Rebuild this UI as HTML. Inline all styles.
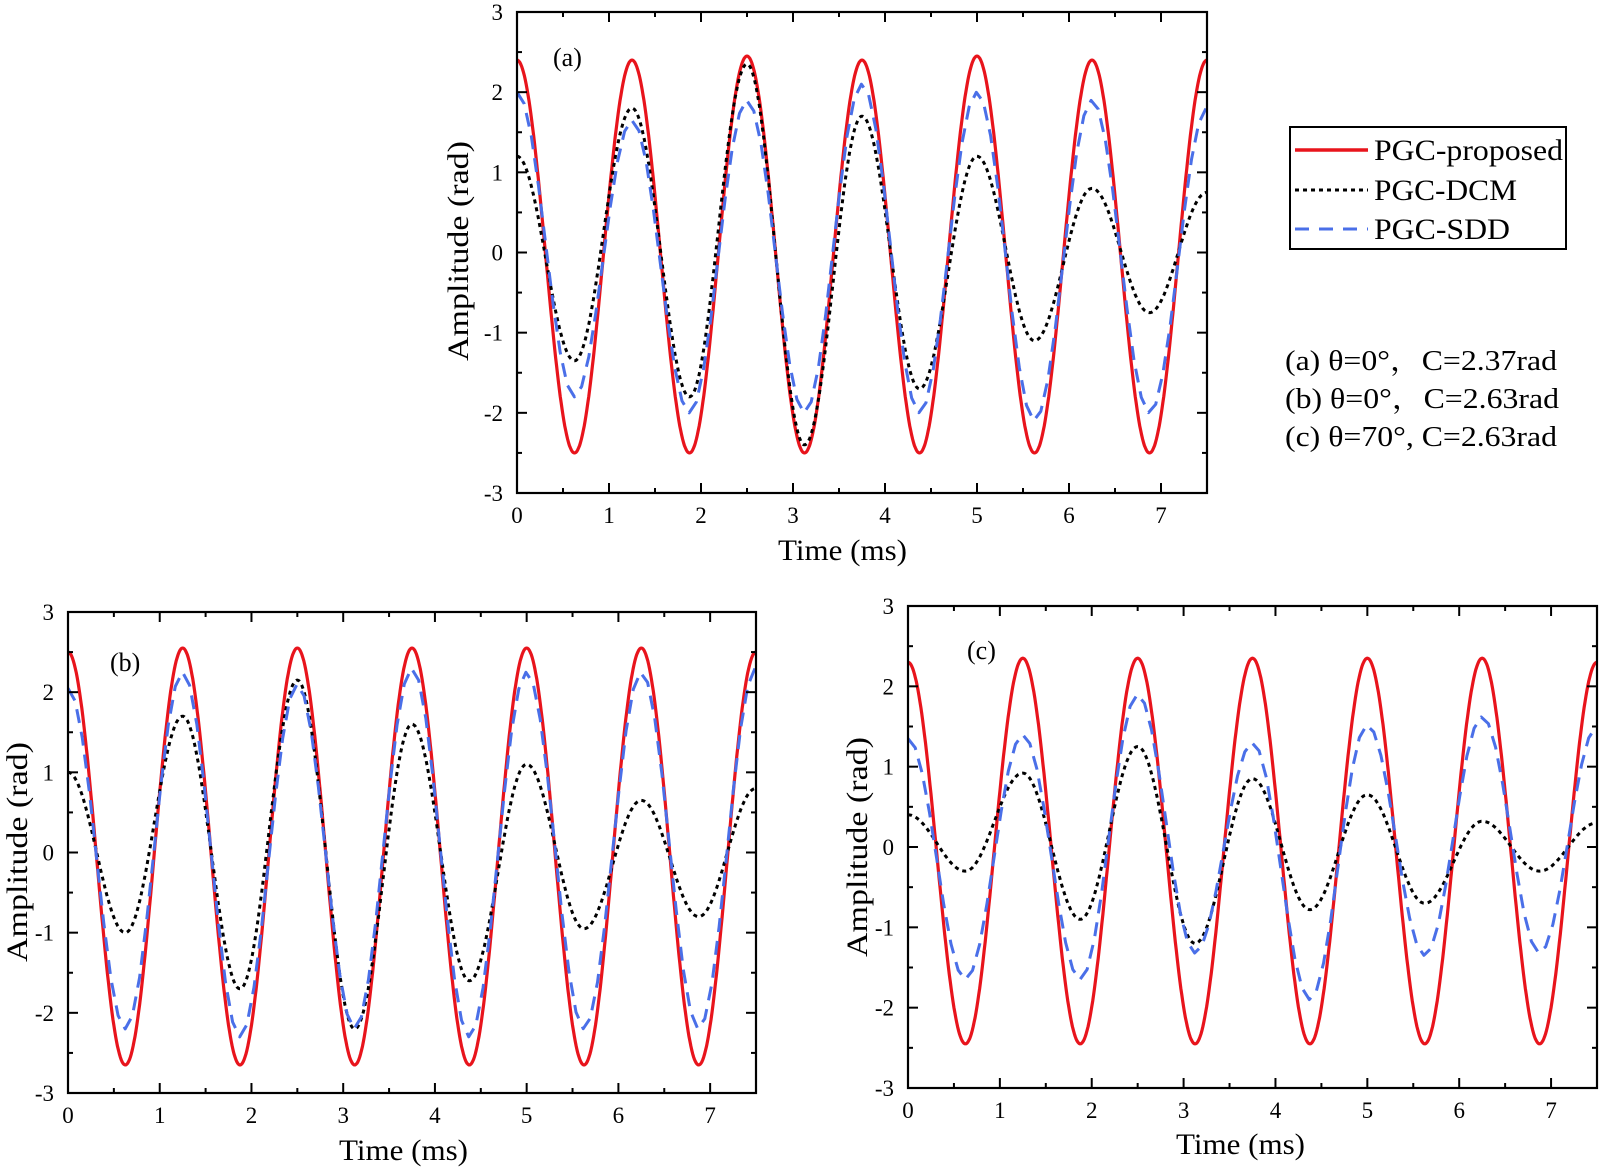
<!DOCTYPE html>
<html><head><meta charset="utf-8"><style>
html,body{margin:0;padding:0;background:#fff;}
svg{display:block;font-family:"Liberation Serif","Noto Serif CJK SC",serif;}
</style></head><body>
<svg id="s" width="1600" height="1170" viewBox="0 0 1600 1170" xmlns="http://www.w3.org/2000/svg">
<rect x="1290" y="127" width="276" height="122" fill="#fff" stroke="#000" stroke-width="2"/>
<line x1="1295" y1="150" x2="1368" y2="150" stroke="#e8141c" stroke-width="3.5"/>
<line x1="1295" y1="190" x2="1368" y2="190" stroke="#000" stroke-width="3" stroke-dasharray="4,4"/>
<line x1="1295" y1="229" x2="1368" y2="229" stroke="#4a6fe8" stroke-width="3" stroke-dasharray="14,10"/>
<text x="1374" y="160" font-size="30" textLength="189" lengthAdjust="spacingAndGlyphs">PGC-proposed</text>
<text x="1374" y="200" font-size="30" textLength="143" lengthAdjust="spacingAndGlyphs">PGC-DCM</text>
<text x="1374" y="239" font-size="30" textLength="136" lengthAdjust="spacingAndGlyphs">PGC-SDD</text>
<text x="1285" y="370" font-size="28" textLength="272" lengthAdjust="spacingAndGlyphs">(a) θ=0°，C=2.37rad</text>
<text x="1285" y="408" font-size="28" textLength="274" lengthAdjust="spacingAndGlyphs">(b) θ=0°，C=2.63rad</text>
<text x="1285" y="446" font-size="28" textLength="272" lengthAdjust="spacingAndGlyphs">(c) θ=70°, C=2.63rad</text>
</svg>
<script>
const NS="http://www.w3.org/2000/svg", s=document.getElementById('s');
function el(t,a,txt){const e=document.createElementNS(NS,t);for(const k in a)e.setAttribute(k,a[k]);if(txt!==undefined)e.textContent=txt;s.appendChild(e);return e;}
function sig(pk,tr,t){
  const h=t/0.625; const n=Math.floor(h); const f=h-n;
  const val=i=>{const k=Math.floor(i/2); return i%2==0? pk[Math.min(k,pk.length-1)] : tr[Math.min(k,tr.length-1)];};
  const a=val(n), b=val(n+1);
  const c=(1-Math.cos(Math.PI*f))/2; return a+(b-a)*c;
}
function panel(P){
  const {x0,x1,y0,y1,lab,lx,ly,tx,ty,ax,ay}=P;
  const sx=t=>x0+(x1-x0)*t/7.5, sy=v=>y1-(y1-y0)*(v+3)/6;
  const id='c'+lab; const cp=el('clipPath',{id}); const r=document.createElementNS(NS,'rect');
  r.setAttribute('x',x0);r.setAttribute('y',y0);r.setAttribute('width',x1-x0);r.setAttribute('height',y1-y0);cp.appendChild(r);
  function line(pk,tr,attrs,step){
    let d='';for(let t=0;t<=7.5+1e-9;t+=step){d+=(d?'L':'M')+sx(t).toFixed(1)+','+sy(sig(pk,tr,t)).toFixed(1);}
    el('path',Object.assign({d,fill:'none','clip-path':'url(#'+id+')','stroke-linejoin':'round'},attrs));
  }
  line(P.red[0],P.red[1],{stroke:'#e8141c','stroke-width':3.2},0.01);
  line(P.blk[0],P.blk[1],{stroke:'#000','stroke-width':3,'stroke-dasharray':'4,4'},0.01);
  line(P.blu[0],P.blu[1],{stroke:'#4a6fe8','stroke-width':3,'stroke-dasharray':'14,9'},0.078);
  el('rect',{x:x0,y:y0,width:x1-x0,height:y1-y0,fill:'none',stroke:'#000','stroke-width':2.2});
  for(let i=0;i<=15;i++){const t=i/2,x=sx(t),L=i%2?5:10;
    el('line',{x1:x,y1:y1,x2:x,y2:y1-L,stroke:'#000','stroke-width':2});
    el('line',{x1:x,y1:y0,x2:x,y2:y0+L,stroke:'#000','stroke-width':2});
    if(i%2==0)el('text',{x:x,y:y1+30,'font-size':23,'text-anchor':'middle'},t);}
  for(let i=0;i<=12;i++){const v=-3+i/2,y=sy(v),L=i%2?5:10;
    el('line',{x1:x0,y1:y,x2:x0+L,y2:y,stroke:'#000','stroke-width':2});
    el('line',{x1:x1,y1:y,x2:x1-L,y2:y,stroke:'#000','stroke-width':2});
    if(i%2==0)el('text',{x:x0-14,y:y+8,'font-size':23,'text-anchor':'end'},v);}
  el('text',{x:lx,y:ly,'font-size':26},'('+lab+')');
  el('text',{x:tx-64,y:ty,'font-size':30,textLength:129,lengthAdjust:'spacingAndGlyphs'},'Time (ms)');
  el('text',{x:ax,y:ay+110,'font-size':30,textLength:220,lengthAdjust:'spacingAndGlyphs',transform:'rotate(-90 '+ax+' '+(ay+110)+')'},'Amplitude (rad)');
}
panel({x0:517,x1:1207,y0:12,y1:493,lab:'a',lx:553,ly:66,tx:842,ty:560,ax:468,ay:251,
 red:[[2.4,2.4,2.45,2.4,2.45,2.4,2.4],[-2.5,-2.5,-2.5,-2.5,-2.5,-2.5]],
 blk:[[1.2,1.8,2.35,1.7,1.2,0.8,0.75],[-1.35,-1.8,-2.4,-1.7,-1.1,-0.75]],
 blu:[[2.0,1.65,1.9,2.1,2.0,1.9,1.8],[-1.8,-2.0,-2.0,-2.0,-2.1,-2.0]]});
panel({x0:68,x1:756,y0:612,y1:1093,lab:'b',lx:110,ly:671,tx:403,ty:1160,ax:27,ay:852,
 red:[[2.5,2.55,2.55,2.55,2.55,2.55,2.5],[-2.65,-2.65,-2.65,-2.65,-2.65,-2.65]],
 blk:[[1.0,1.7,2.15,1.6,1.1,0.65,0.8],[-1.0,-1.7,-2.2,-1.6,-0.95,-0.8]],
 blu:[[2.05,2.25,2.1,2.3,2.25,2.25,2.3],[-2.2,-2.3,-2.2,-2.3,-2.2,-2.2]]});
panel({x0:908,x1:1597,y0:606,y1:1088,lab:'c',lx:967,ly:659,tx:1240,ty:1154,ax:867,ay:847,
 red:[[2.3,2.35,2.35,2.35,2.35,2.35,2.3],[-2.45,-2.45,-2.45,-2.45,-2.45,-2.45]],
 blk:[[0.4,0.92,1.25,0.85,0.65,0.32,0.3],[-0.3,-0.9,-1.2,-0.78,-0.7,-0.3]],
 blu:[[1.35,1.4,1.9,1.3,1.52,1.62,1.5],[-1.65,-1.65,-1.32,-1.9,-1.35,-1.32]]});
</script>
</body></html>
